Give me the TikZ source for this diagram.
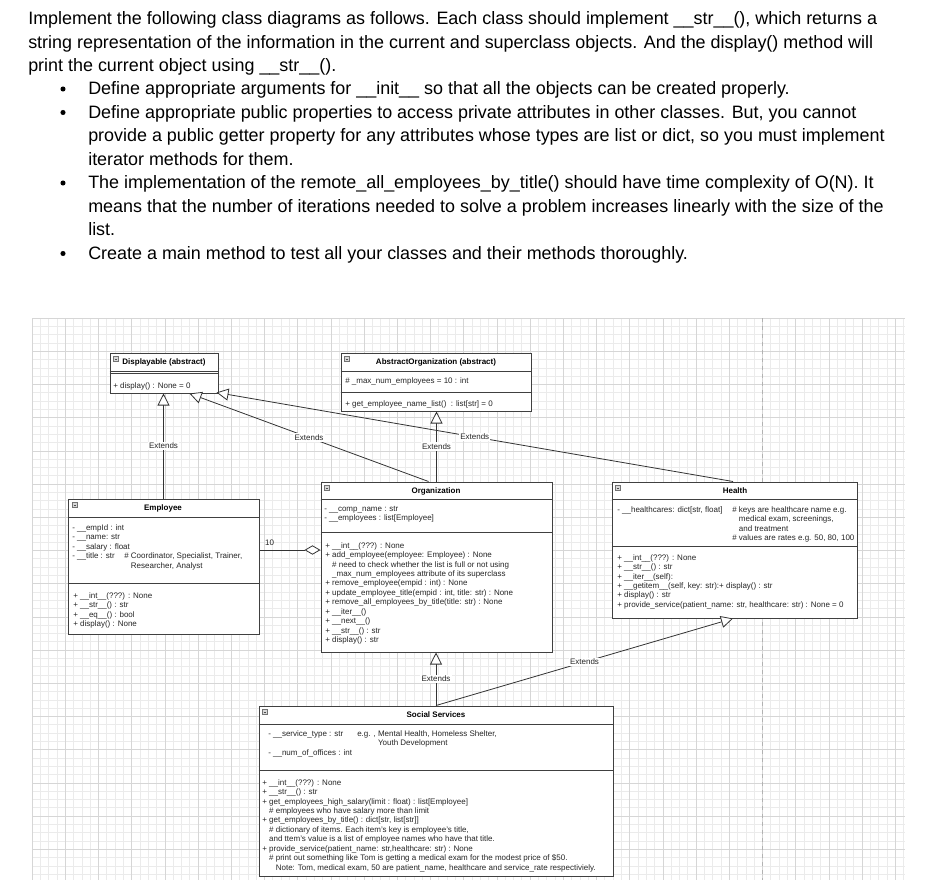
\documentclass[tikz,border=0pt]{standalone}
\usepackage{fontspec}
\setmainfont{Liberation Sans}
\usetikzlibrary{arrows.meta,positioning,calc,fit}

\newcommand{\umlsize}{\fontsize{6pt}{7.1pt}\selectfont}
\newcommand{\ttlsize}{\fontsize{6pt}{7.1pt}\selectfont}

\begin{document}
\begin{tikzpicture}[x=0.75pt, y=-0.75pt,
    line/.style={font=\fontsize{13.45pt}{16pt}\selectfont, anchor=base west, inner sep=0},
    dot/.style={circle, fill=black, inner sep=0, minimum size=3.8pt},
    gridln/.style={draw=black!8, line width=0.4pt},
    gridmaj/.style={draw=black!16, line width=0.4pt},
    cls/.style={draw=black!75, line width=0.75pt, inner sep=0, fill=white},
    sep/.style={draw=black!75, line width=0.75pt},
    ttl/.style={font=\ttlsize\bfseries, inner sep=0},
    txt/.style={font=\umlsize, anchor=north west, align=left, inner sep=0, text=black!85},
    icon/.style={draw=black!55, fill=black!15, minimum size=3.6pt, inner sep=0,
                 path picture={\draw[black!70] ([xshift=0.7pt]path picture bounding box.west)
                 -- ([xshift=-0.7pt]path picture bounding box.east);}},
    ext/.style={draw=black!80, line width=0.6pt, -{Triangle[length=9pt, width=9pt, fill=white]}},
    agg/.style={draw=black!80, line width=0.6pt, -{Diamond[length=12pt, width=7pt, fill=white]}},
    lbl/.style={font=\umlsize, fill=white, inner sep=0.8pt, text=black!85}
]
\useasboundingbox[fill=white] (0,0) rectangle (937,880);

% Task text
\node[line] (l1) at (28,25) {Implement the following class diagrams as follows. Each class should implement \_\_str\_\_(), which returns a};
\node[line] (l2) at (28,48.5) {string representation of the information in the current and superclass objects. And the display() method will};
\node[line] (l3) at (28,72) {print the current object using \_\_str\_\_().};
\node[line] (l4) at (88,95) {Define appropriate arguments for \_\_init\_\_ so that all the objects can be created properly.};
\node[line] (l5) at (88,118.5) {Define appropriate public properties to access private attributes in other classes. But, you cannot};
\node[line] (l6) at (88,142) {provide a public getter property for any attributes whose types are list or dict, so you must implement};
\node[line] (l7) at (88,165.5) {iterator methods for them.};
\node[line] (l8) at (88,189) {The implementation of the remote\_all\_employees\_by\_title() should have time complexity of O(N). It};
\node[line] (l9) at (88,212.5) {means that the number of iterations needed to solve a problem increases linearly with the size of the};
\node[line] (l10) at (88,236) {list.};
\node[line] (l11) at (88,259.5) {Create a main method to test all your classes and their methods thoroughly.};
\node[dot] (d1) at (63,89) {};
\node[dot] (d2) at (63,112.5) {};
\node[dot] (d3) at (63,183) {};
\node[dot] (d4) at (63,253.5) {};

% Grid
\foreach \i in {0,...,105} {\draw[gridln] ({32+8.3*\i},318) -- ({32+8.3*\i},880);}
\foreach \j in {0,...,67} {\draw[gridln] (32,{318+8.3*\j}) -- (905,{318+8.3*\j});}
\foreach \i in {0,4,...,104} {\draw[gridmaj] ({32+8.3*\i},318) -- ({32+8.3*\i},880);}
\foreach \j in {0,4,...,64} {\draw[gridmaj] (32,{318+8.3*\j}) -- (905,{318+8.3*\j});}
\draw[black!30, dashed, line width=0.5pt] (762,318) -- (762,880);

% Displayable
\node[cls, fit={(110,353) (218,393)}] (disp) {};
\draw[sep] (disp.west |- 0,371) -- (disp.east |- 0,371);
\draw[sep] (disp.west |- 0,373.5) -- (disp.east |- 0,373.5);
\node[icon] (disp-i) at (116,359) {};
\node[ttl] (disp-t) at (164,362) {Displayable (abstract)};
\node[txt] (disp-m) at (113,382) {+ display() : None = 0};

% AbstractOrganization
\node[cls, fit={(341,353) (531,411)}] (absorg) {};
\draw[sep] (absorg.west |- 0,371) -- (absorg.east |- 0,371);
\draw[sep] (absorg.west |- 0,392) -- (absorg.east |- 0,392);
\node[icon] (absorg-i) at (347,359) {};
\node[ttl] (absorg-t) at (436,362) {AbstractOrganization (abstract)};
\node[txt] (absorg-a) at (345,377) {\# \_max\_num\_employees = 10 : int};
\node[txt] (absorg-m) at (345,400) {+ get\_employee\_name\_list()\ \ : list[str] = 0};

% Employee
\node[cls, fit={(68,499) (259,634)}] (emp) {};
\draw[sep] (emp.west |- 0,517) -- (emp.east |- 0,517);
\draw[sep] (emp.west |- 0,583) -- (emp.east |- 0,583);
\node[icon] (emp-i) at (75,505) {};
\node[ttl] (emp-t) at (163,508) {Employee};
\node[txt] (emp-a) at (72,524) {- \_\_empId : int\\- \_\_name: str\\- \_\_salary : float\\- \_\_title : str};
\node[txt] (emp-c) at (124,552.5) {\# Coordinator, Specialist, Trainer,\\\phantom{\# }Researcher, Analyst};
\node[txt] (emp-m) at (73,592) {+ \_\_int\_\_(???) : None\\+ \_\_str\_\_() : str\\+ \_\_eq\_\_() : bool\\+ display() : None};

% Organization
\node[cls, fit={(321,482) (552,652)}] (org) {};
\draw[sep] (org.west |- 0,499) -- (org.east |- 0,499);
\draw[sep] (org.west |- 0,532) -- (org.east |- 0,532);
\node[icon] (org-i) at (327,488) {};
\node[ttl] (org-t) at (436,491) {Organization};
\node[txt] (org-a) at (324,506) {- \_\_comp\_name : str\\- \_\_employees : list[Employee]};
\node[txt] (org-m) at (325,542) {+ \_\_int\_\_(???) : None\\
  + add\_employee(employee: Employee) : None\\
  \phantom{+ }\# need to check whether the list is full or not using\\
  \phantom{+ }\_max\_num\_employees attribute of its superclass\\
  + remove\_employee(empid : int) : None\\
  + update\_employee\_title(empid : int, title: str) : None\\
  + remove\_all\_employees\_by\_title(title: str) : None\\
  + \_\_iter\_\_()\\
  + \_\_next\_\_()\\
  + \_\_str\_\_() : str\\
  + display() : str};

% Health
\node[cls, fit={(612,482) (857,618)}] (hlth) {};
\draw[sep] (hlth.west |- 0,499) -- (hlth.east |- 0,499);
\draw[sep] (hlth.west |- 0,546) -- (hlth.east |- 0,546);
\node[icon] (hlth-i) at (618,488) {};
\node[ttl] (hlth-t) at (735,491) {Health};
\node[txt] (hlth-a) at (617,506) {- \_\_healthcares: dict[str, float]};
\begin{scope}
  \clip (hlth.north west) rectangle ($(hlth.south east)+(-2,0)$);
  \node[txt] (hlth-c) at (732,506) {\# keys are healthcare name e.g.\\
    \phantom{\# }medical exam, screenings,\\
    \phantom{\# }and treatment\\
    \# values are rates e.g. 50, 80, 100};
\end{scope}
\node[txt] (hlth-m) at (617,554) {+ \_\_int\_\_(???) : None\\
  + \_\_str\_\_() : str\\
  + \_\_iter\_\_(self):\\
  + \_\_getitem\_\_(self, key: str):+ display() : str\\
  + display() : str\\
  + provide\_service(patient\_name: str, healthcare: str) : None = 0};

% Social Services
\node[cls, fit={(259,706) (613,876)}] (ss) {};
\draw[sep] (ss.west |- 0,724) -- (ss.east |- 0,724);
\draw[sep] (ss.west |- 0,770) -- (ss.east |- 0,770);
\node[icon] (ss-i) at (265,712) {};
\node[ttl] (ss-t) at (436,715) {Social Services};
\node[txt] (ss-a1) at (268,730) {- \_\_service\_type : str};
\node[txt] (ss-a2) at (268,749) {- \_\_num\_of\_offices : int};
\node[txt] (ss-c) at (357,730) {e.g. , Mental Health, Homeless Shelter,\\\phantom{e.g. , }Youth Development};
\node[txt] (ss-m) at (262,779) {+ \_\_int\_\_(???) : None\\
  + \_\_str\_\_() : str\\
  + get\_employees\_high\_salary(limit : float) : list[Employee]\\
  \phantom{+ }\# employees who have salary more than limit\\
  + get\_employees\_by\_title() : dict[str, list[str]]\\
  \phantom{+ }\# dictionary of items. Each item's key is employee's title,\\
  \phantom{+ }and ttem's value is a list of employee names who have that title.\\
  + provide\_service(patient\_name: str,healthcare: str) : None\\
  \phantom{+ }\# print out something like Tom is getting a medical exam for the modest price of \$50.\\
  \phantom{+ \# }Note: Tom, medical exam, 50 are patient\_name, healthcare and service\_rate respectiviely.};

% Relations
\draw[ext] (emp.north) -- (emp.north |- disp.south) node[lbl, midway] (x1) {Extends};
\draw[ext] ($(org.north)+(-8,0)$) -- ($(disp.south east)+(-29,0)$) node[lbl, midway] (x2) {Extends};
\draw[ext] ($(hlth.north)+(-1.5,0)$) -- ($(disp.south east)+(-2,-1)$) node[lbl, midway] (x3) {Extends};
\draw[ext] (org.north) -- (org.north |- absorg.south) node[lbl, midway] (x4) {Extends};
\draw[ext] (ss.north) -- (ss.north |- org.south) node[lbl, midway] (x5) {Extends};
\draw[ext] (ss.north) -- ($(hlth.south)+(-1.5,0)$) node[lbl, midway] (x6) {Extends};
\coordinate (agg-l) at ($(emp.east)+(0,-16.5)$);
\draw[agg] (agg-l) -- (agg-l -| org.west);
\node[font=\umlsize, inner sep=0, text=black!85] (mult) at ($(agg-l)+(10,-7)$) {10};

\end{tikzpicture}
\end{document}
